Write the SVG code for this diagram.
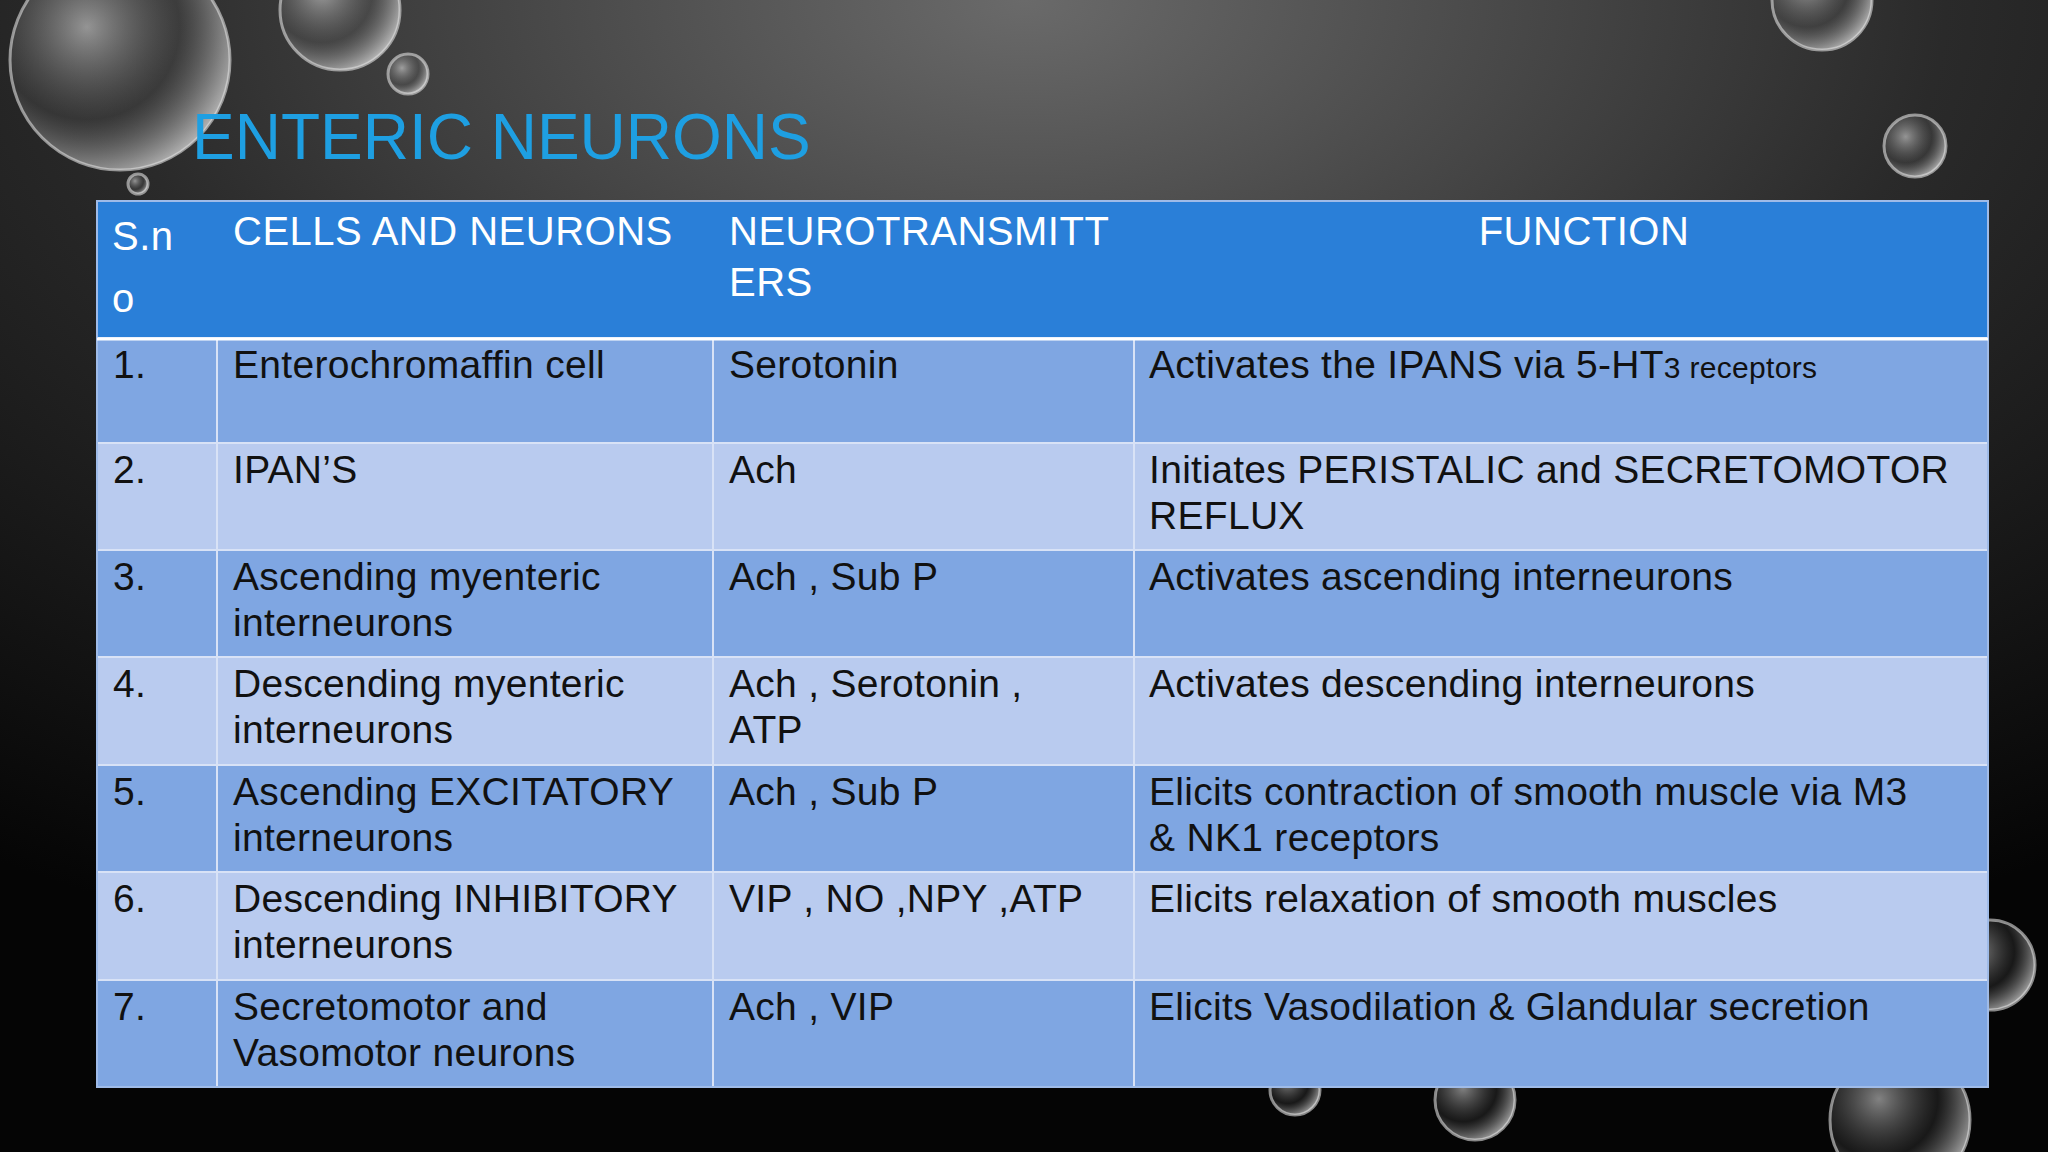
<svg xmlns="http://www.w3.org/2000/svg" width="2048" height="1152" viewBox="0 0 2048 1152">
<defs>
<radialGradient id="bg" cx="0.5" cy="0" r="0.9">
<stop offset="0" stop-color="#6a6a6a"/><stop offset="0.5" stop-color="#2a2a2a"/><stop offset="1" stop-color="#050505"/>
</radialGradient>
<radialGradient id="bub" cx="0.35" cy="0.35" r="0.7">
<stop offset="0" stop-color="#ffffff" stop-opacity="0.5"/><stop offset="0.6" stop-color="#888" stop-opacity="0.15"/><stop offset="1" stop-color="#fff" stop-opacity="0.6"/>
</radialGradient>
<style>
.b{fill:url(#bub);stroke:#ddd;stroke-width:3;stroke-opacity:0.6}
text{font-family:"Liberation Sans",Arial,sans-serif;fill:#111;font-size:39px;letter-spacing:0.3px}
.h{fill:#fff;font-size:40px;letter-spacing:0.5px}
.r1{fill:#7fa6e2}.r2{fill:#b9cbef}
.g{stroke:#d8e2f6;stroke-width:2;fill:none}
</style>
</defs>
<rect width="2048" height="1152" fill="url(#bg)"/>
<g id="bubbles">
<circle class="b" cx="120" cy="60" r="110"/>
<circle class="b" cx="340" cy="10" r="60"/>
<circle class="b" cx="408" cy="74" r="20"/>
<circle class="b" cx="138" cy="184" r="10"/>
<circle class="b" cx="1915" cy="146" r="31"/>
<circle class="b" cx="1822" cy="0" r="50"/>
<circle class="b" cx="1990" cy="965" r="45"/>
<circle class="b" cx="1900" cy="1120" r="70"/>
<circle class="b" cx="1475" cy="1100" r="40"/>
<circle class="b" cx="1295" cy="1090" r="25"/>
</g>
<text x="192" y="159" style="font-size:64px;fill:#1e9fe2;letter-spacing:0">ENTERIC NEURONS</text>
<g id="table">
<rect x="97" y="201" width="1891" height="137" fill="#2a7fd8"/>
<rect class="r1" x="97" y="338" width="1891" height="105"/>
<rect class="r2" x="97" y="443" width="1891" height="107"/>
<rect class="r1" x="97" y="550" width="1891" height="107"/>
<rect class="r2" x="97" y="657" width="1891" height="108"/>
<rect class="r1" x="97" y="765" width="1891" height="107"/>
<rect class="r2" x="97" y="872" width="1891" height="108"/>
<rect class="r1" x="97" y="980" width="1891" height="107"/>
<path class="g" d="M97 338H1988M97 443H1988M97 550H1988M97 657H1988M97 765H1988M97 872H1988M97 980H1988M217 338V1087M713 338V1087M1134 338V1087"/>
<rect x="97" y="201" width="1891" height="886" fill="none" stroke="#9fbbe8" stroke-width="2"/>
<path d="M97 339H1988" stroke="#fff" stroke-width="3"/>
</g>
<g id="header">
<text class="h" x="112" y="250">S.n</text><text class="h" x="112" y="312">o</text>
<text class="h" x="233" y="245">CELLS AND NEURONS</text>
<text class="h" x="729" y="245">NEUROTRANSMITT</text><text class="h" x="729" y="296">ERS</text>
<text class="h" x="1584" y="245" text-anchor="middle">FUNCTION</text>
</g>
<g id="rows">
<text x="113" y="378">1.</text><text x="233" y="378">Enterochromaffin cell</text><text x="729" y="378">Serotonin</text><text x="1149" y="378">Activates the IPANS via 5-HT<tspan style="font-size:30px">3 receptors</tspan></text>
<text x="113" y="483">2.</text><text x="233" y="483">IPAN’S</text><text x="729" y="483">Ach</text><text x="1149" y="483">Initiates PERISTALIC and SECRETOMOTOR</text><text x="1149" y="529">REFLUX</text>
<text x="113" y="590">3.</text><text x="233" y="590">Ascending myenteric</text><text x="233" y="636">interneurons</text><text x="729" y="590">Ach , Sub P</text><text x="1149" y="590">Activates ascending interneurons</text>
<text x="113" y="697">4.</text><text x="233" y="697">Descending myenteric</text><text x="233" y="743">interneurons</text><text x="729" y="697">Ach , Serotonin ,</text><text x="729" y="743">ATP</text><text x="1149" y="697">Activates descending interneurons</text>
<text x="113" y="805">5.</text><text x="233" y="805">Ascending EXCITATORY</text><text x="233" y="851">interneurons</text><text x="729" y="805">Ach , Sub P</text><text x="1149" y="805">Elicits contraction of smooth muscle via M3</text><text x="1149" y="851">&amp; NK1 receptors</text>
<text x="113" y="912">6.</text><text x="233" y="912">Descending INHIBITORY</text><text x="233" y="958">interneurons</text><text x="729" y="912">VIP , NO ,NPY ,ATP</text><text x="1149" y="912">Elicits relaxation of smooth muscles</text>
<text x="113" y="1020">7.</text><text x="233" y="1020">Secretomotor and</text><text x="233" y="1066">Vasomotor neurons</text><text x="729" y="1020">Ach , VIP</text><text x="1149" y="1020">Elicits Vasodilation &amp; Glandular secretion</text>
</g>
</svg>
